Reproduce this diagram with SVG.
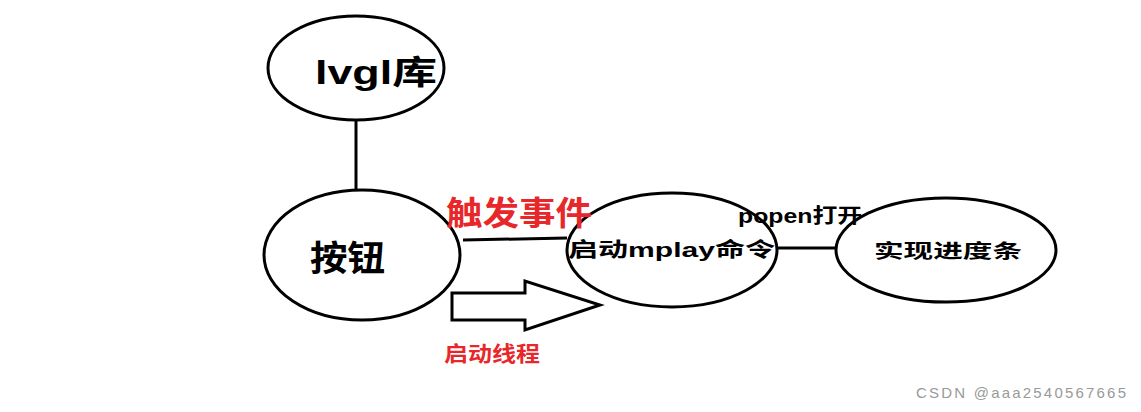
<svg xmlns="http://www.w3.org/2000/svg" width="1141" height="412" viewBox="0 0 1141 412">
<style>
.n{fill:#fff;stroke:#000;stroke-width:3}
.t{font-family:"Liberation Sans","Noto Sans CJK SC",sans-serif;font-weight:bold;fill:#000}
.r{fill:#e8272a}
.c{stroke:#000;stroke-width:3;fill:none}
</style>
<rect width="1141" height="412" fill="#fff"/>
<g id="connectors">
<line class="c" x1="356" y1="120" x2="356" y2="190"/>
<line class="c" x1="463" y1="240" x2="567" y2="238"/>
<line class="c" x1="752" y1="248" x2="840" y2="248"/>
<polygon class="c" stroke-width="2.5" points="452,293 525,293 525,281 600,305 525,330 525,320 452,320"/>
</g>
<g id="lvgl"><ellipse class="n" cx="356" cy="68" rx="88" ry="52"/><text class="t" x="315" y="84" font-size="33" textLength="122" lengthAdjust="spacingAndGlyphs">lvgl库</text></g>
<g id="button"><ellipse class="n" cx="362" cy="255" rx="98" ry="65"/><text class="t" x="310" y="271" font-size="35" textLength="75" lengthAdjust="spacingAndGlyphs">按钮</text></g>
<g id="mplay"><ellipse class="n" cx="672" cy="250" rx="105" ry="57"/><text class="t" x="568" y="257" font-size="20" textLength="207" lengthAdjust="spacingAndGlyphs">启动mplay命令</text></g>
<g id="progress"><ellipse class="n" cx="946" cy="250" rx="110" ry="52"/><text class="t" x="874" y="258" font-size="19" textLength="148" lengthAdjust="spacingAndGlyphs">实现进度条</text></g>
<text class="t r" x="446" y="225" font-size="33" textLength="146" lengthAdjust="spacingAndGlyphs">触发事件</text>
<text class="t" x="738" y="223" font-size="20" textLength="124" lengthAdjust="spacingAndGlyphs">popen打开</text>
<text class="t r" x="444" y="361" font-size="21" textLength="96" lengthAdjust="spacingAndGlyphs">启动线程</text>
<text x="916" y="398" font-size="15" font-family="Liberation Sans,sans-serif" fill="#999" textLength="210">CSDN @aaa2540567665</text>
</svg>
